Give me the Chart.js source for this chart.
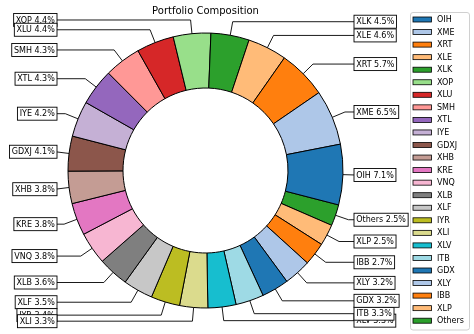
<!DOCTYPE html>
<html lang="en">
<head>
  <meta charset="UTF-8" />
  <title>Portfolio Composition</title>
  <style>
    body {
      margin: 0;
      background: #ffffff;
      overflow: hidden;
    }
    canvas {
      display: block;
    }
  </style>
</head>
<body>
  <canvas id="chart" width="474" height="334"></canvas>

  <script src="https://cdn.jsdelivr.net/npm/chart.js"></script>
  <script>
    // holdings, in legend order (matplotlib draws them counter-clockwise)
    const tickers = ['OIH', 'XME', 'XRT', 'XLE', 'XLK', 'XOP', 'XLU', 'SMH', 'XTL', 'IYE',
                     'GDXJ', 'XHB', 'KRE', 'VNQ', 'XLB', 'XLF', 'IYR', 'XLI', 'XLV', 'ITB',
                     'GDX', 'XLY', 'IBB', 'XLP', 'Others'];
    const weights = [7.1, 6.5, 5.7, 4.6, 4.5, 4.4, 4.4, 4.3, 4.3, 4.2,
                     4.1, 3.8, 3.8, 3.8, 3.6, 3.5, 3.4, 3.3, 3.3, 3.3,
                     3.2, 3.2, 2.7, 2.5, 2.5];
    const colors = ['#1f77b4', '#aec7e8', '#ff7f0e', '#ffbb78', '#2ca02c', '#98df8a', '#d62728', '#ff9896',
                    '#9467bd', '#c5b0d5', '#8c564b', '#c49c94', '#e377c2', '#f7b6d2', '#7f7f7f', '#c7c7c7',
                    '#bcbd22', '#dbdb8d', '#17becf', '#9edae5', '#1f77b4', '#aec7e8', '#ff7f0e', '#ffbb78',
                    '#2ca02c'];

    const FONT = '"DejaVu Sans", sans-serif';

    // Chart.js goes clockwise, so feed it the reversed list
    const rev = arr => arr.slice().reverse();

    const labelPlugin = {
      id: 'labels',
      afterDraw(chart) {
        const ctx = chart.ctx;
        const meta = chart.getDatasetMeta(0);
        const n = tickers.length;

        ctx.save();

        // title
        ctx.fillStyle = '#000';
        ctx.font = '10px ' + FONT;
        ctx.textAlign = 'center';
        ctx.textBaseline = 'alphabetic';
        ctx.fillText('Portfolio Composition', 205.5, 13.5);

        // boxed labels with leader lines
        ctx.font = '8px ' + FONT;
        ctx.textBaseline = 'middle';
        for (let i = 0; i < n; i++) {
          const arc = meta.data[n - 1 - i];
          const p = arc.getProps(['x', 'y', 'startAngle', 'endAngle', 'outerRadius'], true);
          const mid = (p.startAngle + p.endAngle) / 2;
          const r = p.outerRadius;
          const ex = p.x + r * Math.cos(mid);
          const ey = p.y + r * Math.sin(mid);
          const ly = p.y + 1.1 * r * Math.sin(mid);
          const cx = p.x + 1.1 * r * Math.cos(mid);
          const right = Math.cos(mid) >= 0;
          const bx = right ? p.x + 148.5 : p.x - 148.5;

          ctx.strokeStyle = '#000';
          ctx.lineWidth = 0.9;
          ctx.beginPath();
          ctx.moveTo(bx, ly);
          ctx.lineTo(cx, ly);
          ctx.lineTo(ex, ey);
          ctx.stroke();

          const text = tickers[i] + ' ' + weights[i].toFixed(1) + '%';
          const w = ctx.measureText(text).width + 4.4;
          const x0 = right ? bx : bx - w;
          ctx.fillStyle = '#fff';
          ctx.fillRect(x0, ly - 6.5, w, 13);
          ctx.strokeRect(x0, ly - 6.5, w, 13);
          ctx.fillStyle = '#000';
          ctx.textAlign = 'left';
          ctx.fillText(text, x0 + 2.2, ly + 0.5);
        }

        // legend
        ctx.fillStyle = 'rgba(255,255,255,0.8)';
        ctx.strokeStyle = '#d0d0d0';
        ctx.lineWidth = 1;
        ctx.beginPath();
        ctx.roundRect(410.5, 12.5, 59, 317.5, 2.5);
        ctx.fill();
        ctx.stroke();

        for (let i = 0; i < n; i++) {
          const y = 19.5 + i * 12.55;
          ctx.fillStyle = colors[i];
          ctx.fillRect(413, y - 2.5, 18.5, 5);
          ctx.strokeStyle = '#000';
          ctx.lineWidth = 0.8;
          ctx.strokeRect(413, y - 2.5, 18.5, 5);
          ctx.fillStyle = '#000';
          ctx.fillText(tickers[i], 437, y + 0.5);
        }

        ctx.restore();
      }
    };

    new Chart(document.getElementById('chart'), {
      type: 'doughnut',
      data: {
        labels: rev(tickers),
        datasets: [{
          data: rev(weights),
          backgroundColor: rev(colors),
          borderColor: '#000',
          borderWidth: 1
        }]
      },
      options: {
        responsive: false,
        devicePixelRatio: 1,
        animation: false,
        events: [],
        rotation: 104.5,
        radius: 137.5,
        cutout: '60%',
        layout: { padding: { left: 0, right: 63, top: 7, bottom: 0 } },
        plugins: {
          legend: { display: false },
          title: { display: false },
          tooltip: { enabled: false }
        }
      },
      plugins: [labelPlugin]
    });
  </script>
</body>
</html>
